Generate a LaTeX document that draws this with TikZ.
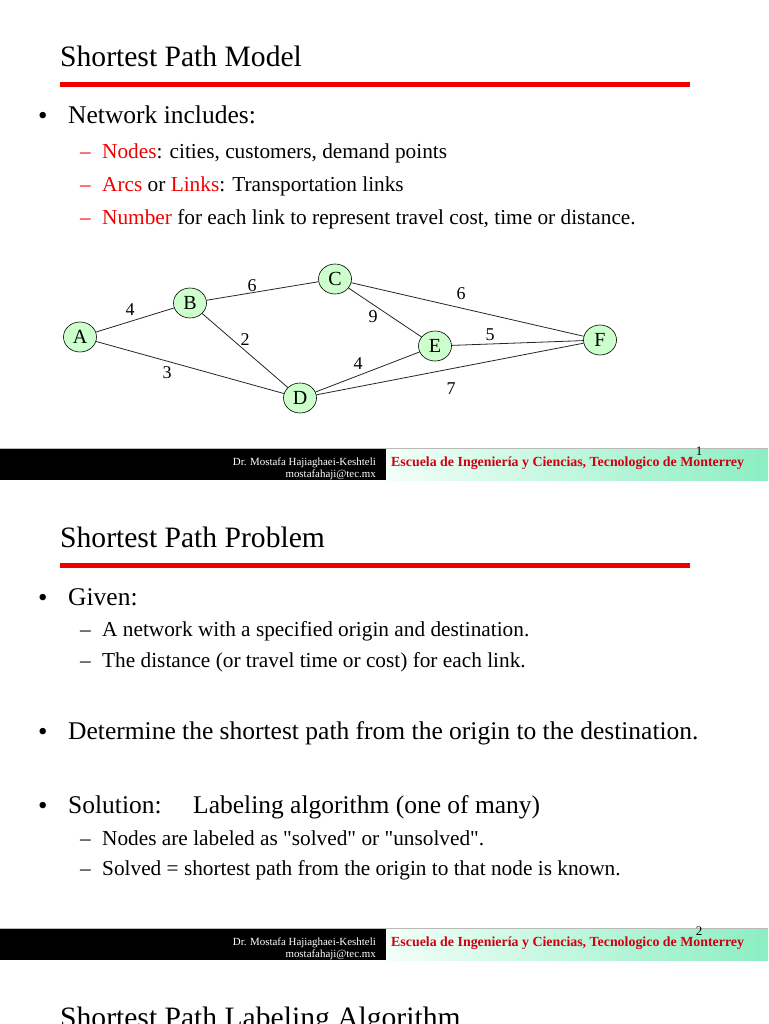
\documentclass[tikz,border=0pt]{standalone}
\usepackage{fontspec}
\setmainfont{Liberation Serif}
\newfontfamily\rawserif{Liberation Serif}
\usetikzlibrary{shapes.geometric}
\newcommand\fsz[1]{\fontsize{#1}{#1}\selectfont}
\newcommand\sq{{\rawserif"}}
\definecolor{nodegreen}{HTML}{CCFFCC}
\definecolor{slred}{HTML}{EE0000}
\definecolor{txred}{HTML}{F00000}
\definecolor{ftred}{HTML}{D00010}
\definecolor{gradL}{HTML}{F2FFF8}
\definecolor{gradR}{HTML}{8CEEC2}
\begin{document}
\begin{tikzpicture}[x=1pt,y=-1pt,
  ttl/.style={anchor=base west, inner sep=0, font=\fsz{29.6}},
  bul/.style={anchor=base west, inner sep=0, font=\fsz{25.5}},
  dot/.style={anchor=base west, inner sep=0, font=\fsz{27}},
  sub/.style={anchor=base west, inner sep=0, font=\fsz{21.3}},
  dsh/.style={anchor=base west, inner sep=0, font=\fsz{21.3}},
  vtx/.style={ellipse, draw=black, line width=0.6pt, fill=nodegreen, minimum width=33, minimum height=30, inner sep=0, font=\fsz{20}},
  wt/.style={inner sep=0, font=\fsz{18}},
  edge/.style={draw=black!85, line width=0.8pt},
  redbar/.style={fill=slred, draw=none},
  blk/.style={fill=black, draw=none},
  grad/.style={left color=gradL, right color=gradR, draw=none},
  auth/.style={anchor=base east, inner sep=0, font=\fsz{10.9}, text=white},
  school/.style={anchor=base west, inner sep=0, font=\bfseries\fsz{13.9}, text=ftred},
  pnum/.style={anchor=base, inner sep=0, font=\fsz{13}}
]
\useasboundingbox (0,0) rectangle (768,1024);
\clip (0,0) rectangle (768,1024);
\fill[white] (0,0) rectangle (768,1024);

% ---------- Slide 1 ----------
\node[ttl] (t1) at (60,67) {Shortest Path Model};
\fill[redbar] (60,82.5) rectangle (690,87.5);
\node[dot] (b1) at (38,125) {•};
\node[bul] (l1) at (68,124) {Network includes:};
\node[dsh,text=txred] (d1) at (80,159) {–};
\node[sub] (s1) at (102,159) {\textcolor{txred}{Nodes}: cities, customers, demand points};
\node[dsh,text=txred] (d2) at (80,192) {–};
\node[sub] (s2) at (102,192) {\textcolor{txred}{Arcs} or \textcolor{txred}{Links}: Transportation links};
\node[dsh,text=txred] (d3) at (80,225) {–};
\node[sub] (s3) at (102,225) {\textcolor{txred}{Number} for each link to represent travel cost, time or distance.};

% graph
\node[vtx] (A) at (80,337) {A};
\node[vtx] (B) at (190,303) {B};
\node[vtx] (C) at (335,279) {C};
\node[vtx] (D) at (300,398) {D};
\node[vtx] (E) at (435,346) {E};
\node[vtx] (F) at (600,340) {F};
\draw[edge] (A) -- (B);
\draw[edge] (B) -- (C);
\draw[edge] (C) -- (F);
\draw[edge] (C) -- (E);
\draw[edge] (B) -- (D);
\draw[edge] (A) -- (D);
\draw[edge] (D) -- (E);
\draw[edge] (E) -- (F);
\draw[edge] (D) -- (F);
\node[wt] (wAB) at (130,310) {4};
\node[wt] (wBC) at (252,286) {6};
\node[wt] (wBD) at (245,340) {2};
\node[wt] (wAD) at (167,373) {3};
\node[wt] (wCE) at (373,317) {9};
\node[wt] (wCF) at (461,294) {6};
\node[wt] (wEF) at (490,335) {5};
\node[wt] (wDE) at (358,364) {4};
\node[wt] (wDF) at (451,389) {7};

% footer 1
\draw[gray!55, line width=1.2pt] (0,448.5) -- (768,448.5);
\fill[blk] (0,449) rectangle (386,480);
\fill[grad] (386,449) rectangle (768,480);
\node[auth] (a1) at (376,465) {Dr. Mostafa Hajiaghaei-Keshteli};
\node[auth] (m1) at (376,477) {mostafahaji@tec.mx};
\node[school] (e1) at (391,466) {Escuela de Ingeniería y Ciencias, Tecnologico de Monterrey};
\node[pnum] (p1) at (699,455) {1};

% ---------- Slide 2 ----------
\node[ttl] (t2) at (60,547) {Shortest Path Problem};
\fill[redbar] (60,562.5) rectangle (690,567.5);
\node[dot] (b2) at (38,606) {•};
\node[bul] (l2) at (68,605) {Given:};
\node[dsh] (d4) at (80,636) {–};
\node[sub] (s4) at (102,636) {A network with a specified origin and destination.};
\node[dsh] (d5) at (80,667) {–};
\node[sub] (s5) at (102,667) {The distance (or travel time or cost) for each link.};
\node[dot] (b3) at (38,740) {•};
\node[bul] (l3) at (68,739) {Determine the shortest path from the origin to the destination.};
\node[dot] (b4) at (38,814) {•};
\node[bul] (l4) at (68,813) {Solution:};
\node[bul] (l5) at (193,813) {Labeling algorithm (one of many)};
\node[dsh] (d6) at (80,845) {–};
\node[sub] (s6) at (102,845) {Nodes are labeled as \sq solved\sq{} or \sq unsolved\sq.};
\node[dsh] (d7) at (80,875) {–};
\node[sub] (s7) at (102,875) {Solved = shortest path from the origin to that node is known.};

% footer 2
\draw[gray!55, line width=1.2pt] (0,928.5) -- (768,928.5);
\fill[blk] (0,929) rectangle (386,960);
\fill[grad] (386,929) rectangle (768,960);
\node[auth] (a2) at (376,945) {Dr. Mostafa Hajiaghaei-Keshteli};
\node[auth] (m2) at (376,957) {mostafahaji@tec.mx};
\node[school] (e2) at (391,946) {Escuela de Ingeniería y Ciencias, Tecnologico de Monterrey};
\node[pnum] (p2) at (699,935) {2};

% ---------- Slide 3 (cut off) ----------
\node[ttl] (t3) at (60,1027) {Shortest Path Labeling Algorithm};
\end{tikzpicture}
\end{document}
